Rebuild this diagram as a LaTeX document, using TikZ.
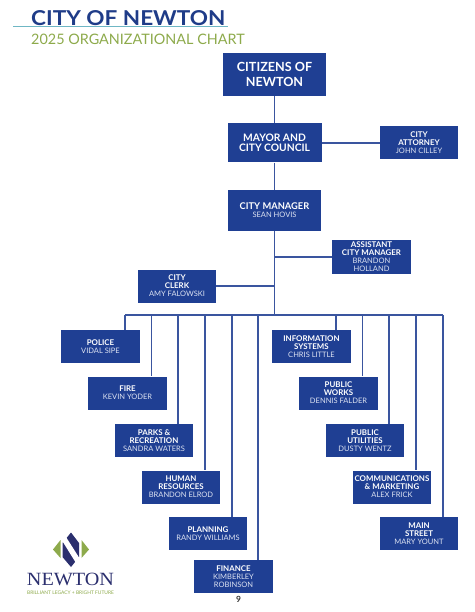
\documentclass[tikz,border=0pt]{standalone}
\usepackage{fontspec}
\setmainfont{Lato}
\newfontfamily\titlefont[FakeStretch=1.1]{Lato}
\newfontfamily\logofont[FakeStretch=1.08]{Liberation Serif}
\definecolor{boxblue}{HTML}{1F3F93}
\definecolor{linkblue}{HTML}{3A559F}
\definecolor{titleblue}{HTML}{1F3C88}
\definecolor{leafgreen}{HTML}{8DAA4B}
\definecolor{rulecyan}{HTML}{6FB7C4}
\definecolor{namecol}{HTML}{DDE3F2}
\definecolor{logonavy}{HTML}{2B2F6E}
\newcommand{\hd}[1]{{\bfseries\fontsize{7.9}{8}\selectfont #1}}
\newcommand{\nm}[1]{{\color{namecol}\fontsize{7.5}{8}\selectfont #1}}
\newcommand{\hdb}[1]{{\bfseries\fontsize{12.6}{12}\selectfont #1}}
\newcommand{\hdc}[1]{{\bfseries\fontsize{10.3}{9.5}\selectfont #1}}
\tikzset{
 x=1pt,y=-1pt,
 org/.style={fill=boxblue,text=white,align=center,inner sep=0pt,minimum width=78.5pt,minimum height=33pt,font=\fontsize{8}{8}\selectfont},
 link/.style={draw=linkblue,line width=1.15pt},
 thick link/.style={draw=linkblue,line width=1.5pt},
}
\begin{document}
\begin{tikzpicture}
\useasboundingbox (0,0) rectangle (474,612);
% title
\node[anchor=base west,inner sep=0pt,text=titleblue,font=\titlefont\bfseries\fontsize{20.5}{20}\selectfont] (title) at (31,25.5) {CITY OF NEWTON};
\coordinate (ruleL) at (13,26);
\coordinate (ruleR) at (228,26);
\draw[rulecyan,line width=.7pt] (ruleL) -- (ruleR);
\node[anchor=base west,inner sep=0pt,text=leafgreen,font=\fontsize{14.4}{15}\selectfont] (sub) at (31,44.5) {2025 ORGANIZATIONAL CHART};
% top boxes
\node[org,minimum width=103pt,minimum height=43pt] (citizens) at (274.5,74.5) {\hdb{CITIZENS OF}\\[4pt]\hdb{NEWTON}};
\node[org,minimum width=94pt,minimum height=39pt] (mayor) at (274.5,143) {\hdc{MAYOR AND}\\[1.8pt]\hdc{CITY COUNCIL}};
\node[org,minimum height=33pt] (attorney) at (419,143) {\hd{CITY}\\\hd{ATTORNEY}\\\nm{JOHN CILLEY}};
\node[org,minimum width=93pt,minimum height=40pt] (manager) at (274.5,210.5) {{\fontsize{9.3}{8.5}\selectfont\bfseries CITY MANAGER}\\\nm{SEAN HOVIS}};
\node[org,minimum height=34pt] (assistant) at (371.5,257) {\hd{ASSISTANT}\\\hd{CITY MANAGER}\\\nm{BRANDON}\\\nm{HOLLAND}};
\node[org] (clerk) at (177,286) {\hd{CITY}\\\hd{CLERK}\\\nm{AMY FALOWSKI}};
% department boxes
\node[org] (police) at (100.5,346.5) {\hd{POLICE}\\\nm{VIDAL SIPE}};
\node[org] (fire) at (127.5,393) {\hd{FIRE}\\\nm{KEVIN YODER}};
\node[org] (parks) at (154,440.5) {\hd{PARKS \&}\\\hd{RECREATION}\\\nm{SANDRA WATERS}};
\node[org] (hr) at (181,487) {\hd{HUMAN}\\\hd{RESOURCES}\\\nm{BRANDON ELROD}};
\node[org] (planning) at (208,533.5) {\hd{PLANNING}\\\nm{RANDY WILLIAMS}};
\node[org] (finance) at (233.5,576.2) {\hd{FINANCE}\\\nm{KIMBERLEY}\\\nm{ROBINSON}};
\node[org] (is) at (311.5,346.5) {\hd{INFORMATION}\\\hd{SYSTEMS}\\\nm{CHRIS LITTLE}};
\node[org] (works) at (338.5,393) {\hd{PUBLIC}\\\hd{WORKS}\\\nm{DENNIS FALDER}};
\node[org] (utilities) at (365,440.5) {\hd{PUBLIC}\\\hd{UTILITIES}\\\nm{DUSTY WENTZ}};
\node[org] (comms) at (392,487) {\hd{COMMUNICATIONS}\\\hd{\& MARKETING}\\\nm{ALEX FRICK}};
\node[org] (mainst) at (419,533.5) {\hd{MAIN}\\\hd{STREET}\\\nm{MARY YOUNT}};
% connectors
\coordinate (busT) at (274.5,315);
\coordinate (d1) at (125,315);
\coordinate (d2) at (151.5,315);
\coordinate (d3) at (178,315);
\coordinate (d4) at (205,315);
\coordinate (d5) at (232,315);
\coordinate (d6) at (258,315);
\coordinate (d7) at (336,315);
\coordinate (d8) at (362.5,315);
\coordinate (d9) at (389,315);
\coordinate (d10) at (416,315);
\coordinate (d11) at (443,315);
\draw[thick link] (citizens) -- (mayor);
\draw[thick link] (mayor) -- (manager);
\draw[thick link] (mayor) -- (attorney);
\draw[thick link] (manager) -- (busT);
\draw[link] (assistant.west) -- (assistant.west -| manager);
\draw[link] (clerk.east) -- (clerk.east -| manager);
\draw[thick link] (d1) -- (d11);
\draw[link] (d1) -- (d1 |- police.north);
\draw[link] (d2) -- (d2 |- fire.north);
\draw[link] (d3) -- (d3 |- parks.north);
\draw[link] (d4) -- (d4 |- hr.north);
\draw[link] (d5) -- (d5 |- planning.north);
\draw[thick link] (d6) -- (d6 |- finance.north);
\draw[link] (d7) -- (d7 |- is.north);
\draw[link] (d8) -- (d8 |- works.north);
\draw[link] (d9) -- (d9 |- utilities.north);
\draw[link] (d10) -- (d10 |- comms.north);
\draw[thick link] (d11) -- (d11 |- mainst.north);
% logo
\fill[logonavy] (71,532.5) -- (79,543) -- (79,557) -- (71,567) -- (62.5,557) -- (62.5,543) -- cycle;
\fill[white] (62,540.5) -- (66,537) -- (80,559) -- (76,563) -- cycle;
\fill[leafgreen] (60.5,540) -- (60.5,558) -- (53,549.5) -- cycle;
\fill[leafgreen] (81.5,540) -- (81.5,558) -- (89,549.5) -- cycle;
\node[inner sep=0pt,text=logonavy,font=\logofont\fontsize{18.7}{19}\selectfont] (logotext) at (70.5,579.5) {NEWTON};
\node[inner sep=0pt,text=leafgreen,font=\fontsize{4.9}{5}\selectfont] (tagline) at (70.5,592.5) {BRILLIANT LEGACY + BRIGHT FUTURE};
\node[inner sep=0pt,text=black!80,font=\bfseries\fontsize{8.5}{8.5}\selectfont] (page) at (238.5,599.5) {9};
\end{tikzpicture}
\end{document}
